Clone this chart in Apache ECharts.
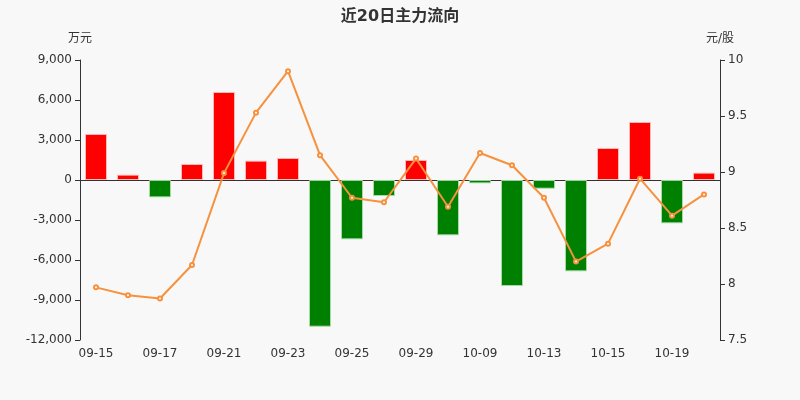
<!DOCTYPE html>
<html>
<head>
<meta charset="utf-8">
<script src="https://cdn.jsdelivr.net/npm/echarts@6/dist/echarts.min.js"></script>
<style>
  html, body { margin: 0; padding: 0; background: #f8f8f8; }
  #main { width: 800px; height: 400px; }
</style>
</head>
<body>
<div id="main"></div>
<script>
var dates = ['09-15', '09-16', '09-17', '09-18', '09-21', '09-22', '09-23', '09-24', '09-25', '09-28',
  '09-29', '09-30', '10-09', '10-12', '10-13', '10-14', '10-15', '10-16', '10-19', '10-20'];
// 主力净流入 (万元)
var flow = [3450, 400, -1300, 1200, 6600, 1450, 1650, -11000, -4450, -1200,
  1500, -4150, -250, -7950, -650, -6850, 2400, 4350, -3250, 550];
// 收盘价 (元/股)
var price = [7.97, 7.90, 7.87, 8.17, 8.99, 9.53, 9.90, 9.15, 8.77, 8.73,
  9.12, 8.69, 9.17, 9.06, 8.77, 8.20, 8.36, 8.94, 8.61, 8.80];

var chart = echarts.init(document.getElementById('main'));

var barData = flow.map(function (v) {
  return {
    value: v,
    itemStyle: {
      color: v >= 0 ? '#ff0000' : '#008000',
      borderColor: v >= 0 ? 'rgba(255,190,190,0.9)' : 'rgba(170,220,170,0.9)',
      borderWidth: 1
    }
  };
});

var option = {
  backgroundColor: '#f8f8f8',
  textStyle: { fontFamily: 'DejaVu Sans, Noto Sans CJK SC, sans-serif' },
  title: {
    text: '近20日主力流向',
    left: 'center',
    top: 4,
    textStyle: { fontSize: 16, fontWeight: 'bold', color: '#333' }
  },
  grid: { left: 80, right: 80, top: 60, bottom: 60 },
  xAxis: [
    {
      type: 'category',
      data: dates,
      axisLine: { onZero: true, lineStyle: { color: '#333' } },
      axisTick: { interval: 1, lineStyle: { color: '#333' } },
      axisLabel: { show: false }
    },
    {
      type: 'category',
      data: dates,
      position: 'bottom',
      axisLine: { show: false, onZero: false },
      axisTick: { show: false },
      axisLabel: { interval: 1, color: '#333', fontSize: 12, margin: 8 }
    }
  ],
  yAxis: [
    {
      type: 'value',
      name: '万元',
      nameTextStyle: { color: '#333', fontSize: 12, align: 'center' },
      min: -12000,
      max: 9000,
      interval: 3000,
      splitLine: { show: false },
      axisLine: { show: true, lineStyle: { color: '#333' } },
      axisTick: { show: true },
      axisLabel: { color: '#333', fontSize: 12 }
    },
    {
      type: 'value',
      name: '元/股',
      nameTextStyle: { color: '#333', fontSize: 12, align: 'center' },
      min: 7.5,
      max: 10,
      interval: 0.5,
      splitLine: { show: false },
      axisLine: { show: true, lineStyle: { color: '#333' } },
      axisTick: { show: true },
      axisLabel: { color: '#333', fontSize: 12 }
    }
  ],
  series: [
    {
      name: '主力净流入',
      type: 'bar',
      xAxisIndex: 0,
      yAxisIndex: 0,
      barWidth: 22,
      data: barData
    },
    {
      name: '收盘价',
      type: 'line',
      xAxisIndex: 0,
      yAxisIndex: 1,
      symbol: 'emptyCircle',
      symbolSize: 4,
      itemStyle: { color: '#f7913d' },
      lineStyle: { color: '#f7913d', width: 2 },
      data: price
    }
  ]
};

chart.setOption(option);
</script>
</body>
</html>
